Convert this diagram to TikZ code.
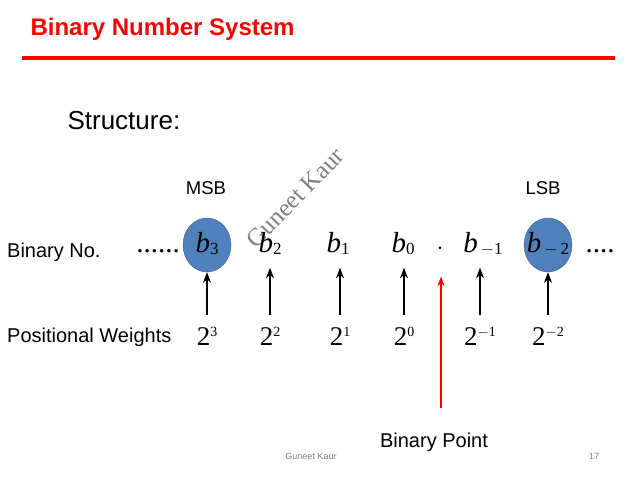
\documentclass[tikz,border=0pt]{standalone}
\usepackage{fontspec}
\setmainfont{Liberation Sans}
\newfontfamily\timesfont{Liberation Serif}
\usetikzlibrary{arrows.meta, shapes.geometric}
\definecolor{titlered}{RGB}{255,0,0}
\definecolor{bitblue}{RGB}{79,129,189}
\definecolor{bitedge}{RGB}{56,93,138}
% bit symbol b with index
\newcommand{\bitsym}[1]{{\itshape b}\raisebox{-2pt}{\fontsize{17}{17}\selectfont #1}}
\newcommand{\wsym}[1]{2\raisebox{9pt}{\fontsize{14}{14}\selectfont #1}}

\begin{document}
\begin{tikzpicture}[x=1pt, y=-1pt, >=Stealth,
  bit/.style={font=\timesfont\fontsize{29}{29}\selectfont, inner sep=0pt, text height=20pt, text depth=5pt},
  msbbit/.style={bit, ellipse, draw=bitedge, fill=bitblue, minimum width=48pt, minimum height=54pt},
  weight/.style={font=\timesfont\fontsize{27}{27}\selectfont, inner sep=0pt},
  lbl/.style={font=\fontsize{20}{20}\selectfont, inner sep=0pt},
  up/.style={->, line width=1.7pt, shorten <=12pt}]
\useasboundingbox (0,0) rectangle (638,478);
% heading
\node[anchor=west, text=titlered, font=\bfseries\fontsize{24}{24}\selectfont] (title) at (27,29) {Binary Number System};
\draw[titlered, line width=3.5pt] (22,58) -- (615,58);
\node[anchor=west, font=\fontsize{26}{26}\selectfont] (struct) at (64,121) {Structure:};
% watermark
\node[gray, rotate=46, font=\timesfont\fontsize{25}{25}\selectfont] (mark) at (295,198) {Guneet Kaur};
% labels
\node[lbl, font=\fontsize{18.5}{18.5}\selectfont] (msb) at (206,188) {MSB};
\node[lbl, font=\fontsize{18.5}{18.5}\selectfont] (lsb) at (543,188) {LSB};
\node[lbl, anchor=west] (binno) at (7,252) {Binary No.};
\node[lbl, anchor=west] (posw) at (7,337) {Positional Weights};
% bits
\node[bit] (ldots) at (158,245) {......};
\node[msbbit] (b3) at (207,245) {\bitsym{3}};
\node[bit] (b2) at (270,245) {\bitsym{2}};
\node[bit] (b1) at (338,245) {\bitsym{1}};
\node[bit] (b0) at (403,245) {\bitsym{0}};
\node[bit] (pt) at (440,247) {$\cdot$};
\node[bit] (bm1) at (483,245) {\bitsym{\,$-$1}};
\node[msbbit, inner xsep=-5.5pt] (bm2) at (548,245) {\bitsym{\,$-$\,2}};
\node[bit] (rdots) at (600,245) {....};
% weights
\node[weight] (w3) at (207,336) {\wsym{3}};
\node[weight] (w2) at (270,336) {\wsym{2}};
\node[weight] (w1) at (340,336) {\wsym{1}};
\node[weight] (w0) at (404,336) {\wsym{0}};
\node[weight] (wm1) at (480,336) {\wsym{$-$1}};
\node[weight] (wm2) at (548,336) {\wsym{$-$2}};
% arrows
\draw[up] (w3.north) -- (w3.north |- b3.south);
\draw[up, shorten >=10pt] (w2.north) -- (w2.north |- b2.south);
\draw[up, shorten >=10pt] (w1.north) -- (w1.north |- b1.south);
\draw[up, shorten >=10pt] (w0.north) -- (w0.north |- b0.south);
\draw[up, shorten >=10pt] (wm1.north) -- (wm1.north |- bm1.south);
\draw[up] (wm2.north) -- (wm2.north |- bm2.south);
% binary point
\node[lbl] (bpt) at (434,442) {Binary Point};
\coordinate (bpbase) at (441,408);
\draw[->, red, line width=1.4pt, shorten >=17pt] (bpbase) -- (bpbase |- pt.south);
% footer
\node[gray, font=\fontsize{9}{9}\selectfont] (foot) at (311,456) {Guneet Kaur};
\node[gray, font=\fontsize{9}{9}\selectfont] (page) at (594,456) {17};
\end{tikzpicture}
\end{document}
